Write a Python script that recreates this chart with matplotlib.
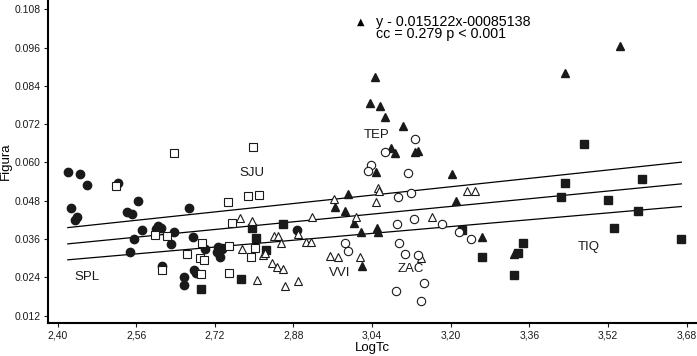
import matplotlib
matplotlib.use("Agg")
import matplotlib.pyplot as plt

plt.rcParams['font.family'] = ['Liberation Sans', 'DejaVu Sans']

# SPL - filled circles
spl_x = [2.421, 2.445, 2.459, 2.524, 2.564, 2.428, 2.440, 2.436, 2.541, 2.551,
         2.572, 2.604, 2.611, 2.601, 2.637, 2.555, 2.631, 2.547, 2.613, 2.668,
         2.676, 2.700, 2.726, 2.734, 2.724, 2.730, 2.678, 2.682, 2.657, 2.657, 2.888]
spl_y = [0.0569, 0.0564, 0.0530, 0.0535, 0.0479, 0.0457, 0.0429, 0.0421, 0.0444, 0.0439,
         0.0388, 0.0401, 0.0394, 0.0391, 0.0383, 0.0359, 0.0345, 0.0319, 0.0277, 0.0458,
         0.0368, 0.0328, 0.0336, 0.0328, 0.0320, 0.0305, 0.0263, 0.0253, 0.0242, 0.0215, 0.0389]

# SJU - open squares
sju_x = [2.518, 2.636, 2.798, 2.787, 2.810, 2.747, 2.754, 2.599, 2.623, 2.693,
         2.749, 2.664, 2.690, 2.698, 2.802, 2.793, 2.691, 2.749, 2.613]
sju_y = [0.0527, 0.0631, 0.0650, 0.0495, 0.0498, 0.0477, 0.0410, 0.0373, 0.0371, 0.0349,
         0.0338, 0.0312, 0.0302, 0.0295, 0.0331, 0.0305, 0.0250, 0.0253, 0.0263]

# TIQ - filled squares
tiq_x = [2.795, 2.804, 2.858, 2.825, 2.730, 2.773, 2.691,
         3.472, 3.432, 3.588, 3.424, 3.519, 3.581, 3.531, 3.669,
         3.222, 3.347, 3.337, 3.264, 3.328]
tiq_y = [0.0394, 0.0362, 0.0406, 0.0326, 0.0331, 0.0235, 0.0204,
         0.0658, 0.0537, 0.0547, 0.0493, 0.0483, 0.0449, 0.0394, 0.0359,
         0.0389, 0.0349, 0.0316, 0.0305, 0.0248]

# TEP - filled triangles
tep_x = [3.046, 3.035, 3.056, 3.066, 3.102, 3.079, 3.086, 3.127, 3.134, 3.047,
         3.203, 2.991, 2.964, 2.985, 3.210, 3.003, 3.018, 3.049, 3.051, 3.264,
         3.020, 3.432, 3.545, 3.328]
tep_y = [0.0867, 0.0786, 0.0778, 0.0744, 0.0715, 0.0645, 0.0629, 0.0634, 0.0637, 0.0571,
         0.0563, 0.0501, 0.0462, 0.0449, 0.0480, 0.0411, 0.0383, 0.0394, 0.0383, 0.0366,
         0.0276, 0.0879, 0.0965, 0.0313]

# VVI - open triangles
vvi_x = [2.772, 2.796, 2.840, 2.849, 2.854, 2.775, 2.817, 2.822, 2.837, 2.847,
         2.858, 2.805, 2.862, 2.890, 2.890, 2.917, 2.963, 2.905, 2.915, 3.007,
         3.048, 3.052, 3.054, 2.955, 2.970, 3.015, 3.161, 3.233, 3.249, 3.139]
vvi_y = [0.0425, 0.0418, 0.0370, 0.0370, 0.0349, 0.0329, 0.0310, 0.0315, 0.0286, 0.0274,
         0.0265, 0.0232, 0.0213, 0.0230, 0.0375, 0.0430, 0.0486, 0.0352, 0.0352, 0.0430,
         0.0477, 0.0519, 0.0511, 0.0308, 0.0303, 0.0305, 0.0428, 0.0512, 0.0512, 0.0300]

# ZAC - open circles
zac_x = [3.127, 3.067, 3.037, 3.032, 3.113, 3.093, 3.119, 3.125, 3.183, 3.217,
         3.242, 3.091, 3.095, 2.985, 2.991, 3.107, 3.134, 3.145, 3.088, 3.140]
zac_y = [0.0674, 0.0634, 0.0592, 0.0574, 0.0566, 0.0493, 0.0505, 0.0422, 0.0406, 0.0383,
         0.0359, 0.0406, 0.0349, 0.0349, 0.0323, 0.0312, 0.0310, 0.0223, 0.0198, 0.0167]

# regression line and band ends
line_x = [2.421, 3.669]
upper_y = [0.0396, 0.0601]
fit_y = [0.0345, 0.0533]
lower_y = [0.0295, 0.0462]

group_names = ['SPL', 'SJU', 'TEP', 'VVI', 'ZAC', 'TIQ']
group_x = [2.460, 2.795, 3.050, 2.974, 3.118, 3.481]
group_y = [0.0242, 0.0568, 0.0686, 0.0253, 0.0265, 0.0334]

x_ticks = [2.40, 2.56, 2.72, 2.88, 3.04, 3.20, 3.36, 3.52, 3.68]
y_ticks = [0.012, 0.024, 0.036, 0.048, 0.060, 0.072, 0.084, 0.096, 0.108]

fig = plt.figure(figsize=(6.97, 3.56), dpi=100)
ax = fig.add_axes([0.0684, 0.0918, 0.931, 0.908])

for xs, ys in [(line_x, upper_y), (line_x, fit_y), (line_x, lower_y)]:
    ax.plot(xs, ys, color='black', lw=0.9, zorder=1)

ms = 6
ax.plot(spl_x, spl_y, 'o', color='#1a1a1a', ms=ms, zorder=2)
ax.plot(sju_x, sju_y, 's', mfc='white', mec='#1a1a1a', mew=0.8, ms=ms, zorder=2)
ax.plot(tiq_x, tiq_y, 's', color='#1a1a1a', ms=ms, zorder=2)
ax.plot(tep_x, tep_y, '^', color='#1a1a1a', ms=ms, zorder=2)
ax.plot(vvi_x, vvi_y, '^', mfc='white', mec='#1a1a1a', mew=0.8, ms=ms, zorder=2)
ax.plot(zac_x, zac_y, 'o', mfc='white', mec='#1a1a1a', mew=0.8, ms=ms, zorder=2)

for name, gx, gy in zip(group_names, group_x, group_y):
    ax.text(gx, gy, name, ha='center', va='center', fontsize=9.5, color='#1a1a1a')

ax.text(0.482, 0.933, '\u25b2', transform=ax.transAxes, ha='center', va='center',
        fontsize=7, family=['DejaVu Sans'])
ax.text(0.506, 0.933, 'y - 0.015122x-00085138', transform=ax.transAxes,
        ha='left', va='center', fontsize=10.3)
ax.text(0.506, 0.894, 'cc = 0.279 p < 0.001', transform=ax.transAxes,
        ha='left', va='center', fontsize=10.3)

ax.set_xlim(2.38, 3.70)
ax.set_ylim(0.0096, 0.1109)
ax.set_xticks(x_ticks)
ax.set_xticklabels([f'{t:.2f}'.replace('.', ',') for t in x_ticks])
ax.set_yticks(y_ticks)
ax.set_yticklabels([f'{t:.3f}' for t in y_ticks])
ax.tick_params(labelsize=7.5, length=3, width=0.8, pad=2, colors='#1a1a1a')
ax.set_xlabel('LogTc', fontsize=9.5, labelpad=1)
ax.set_ylabel('Figura', fontsize=9.5, labelpad=2)

for side in ['top', 'right']:
    ax.spines[side].set_visible(False)
for side in ['left', 'bottom']:
    ax.spines[side].set_linewidth(1.5)

fig.savefig('out.png', dpi=100)
